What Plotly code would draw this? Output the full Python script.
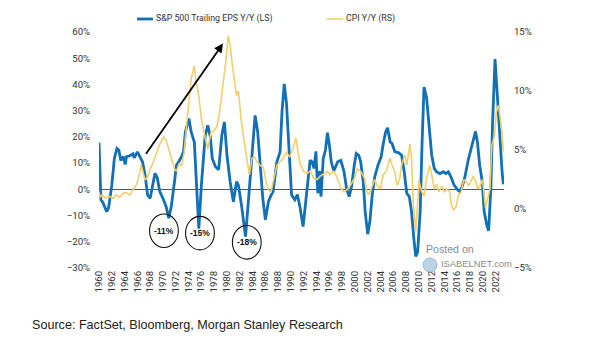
import plotly.graph_objects as go

# S&P 500 trailing EPS, year-over-year change (%), left axis
eps_year = [1960.0, 1960.3, 1960.6, 1961.2, 1961.5, 1962.0, 1962.4, 1962.8, 1963.1, 1963.4,
            1963.8, 1964.1, 1964.3, 1964.8, 1965.3, 1965.5, 1966.0, 1966.4, 1966.8, 1967.2,
            1967.6, 1968.0, 1968.4, 1968.75, 1969.1, 1969.5, 1970.0, 1970.5, 1970.9, 1971.3,
            1971.8, 1972.1, 1972.5, 1972.9, 1973.2, 1973.5, 1974.05, 1974.4, 1974.9, 1975.25,
            1975.6, 1976.0, 1976.6, 1977.0, 1977.4, 1977.7, 1978.2, 1978.7, 1979.2, 1979.6,
            1980.0, 1980.5, 1981.0, 1981.5, 1981.8, 1982.3, 1982.9, 1983.3, 1983.9, 1984.4,
            1984.8, 1985.2, 1985.6, 1986.0, 1986.5, 1986.9, 1987.2, 1987.8, 1988.3, 1988.6,
            1988.95, 1989.3, 1989.7, 1990.1, 1990.6, 1991.0, 1991.4, 1991.9, 1992.3, 1992.7,
            1993.0, 1993.3, 1993.6, 1993.9, 1994.2, 1994.5, 1994.7, 1995.05, 1995.4, 1995.7,
            1996.0, 1996.3, 1996.7, 1997.3, 1997.8, 1998.3, 1998.7, 1999.1, 1999.5, 1999.9,
            2000.2, 2000.6, 2000.9, 2001.3, 2001.6, 2002.0, 2002.35, 2002.7, 2003.1, 2003.6,
            2004.1, 2004.4, 2004.8, 2005.1, 2005.5, 2005.8, 2006.25, 2006.8, 2007.3, 2007.7,
            2008.1, 2008.5, 2008.85, 2009.2, 2009.5, 2009.8, 2010.2, 2010.5, 2010.8, 2011.2,
            2011.55, 2012.0, 2012.4, 2012.75, 2013.3, 2013.8, 2014.2, 2014.6, 2015.0, 2015.5,
            2016.0, 2016.4, 2016.75, 2017.2, 2017.7, 2018.1, 2018.5, 2018.85, 2019.15, 2019.5,
            2019.9, 2020.2, 2020.6, 2020.9, 2021.25, 2021.5, 2021.9, 2022.2, 2022.65, 2023.0,
            2023.2]
eps_yoy = [17.8, -4.0, -5.0, -8.5, -7.0, 1.6, 11.8, 15.6, 15.0, 11.0,
           12.5, 9.5, 12.5, 12.8, 13.5, 12.0, 14.3, 12.5, 10.5, 5.4,
           -2.2, -3.4, 2.0, 6.1, 4.5, -0.9, -3.5, -6.6, -11.0, -6.5,
           2.9, 9.2, 10.7, 12.4, 14.3, 21.9, 27.0, 22.0, 18.0, 2.0,
           -15.0, 1.6, 20.6, 24.4, 20.0, 11.8, 8.6, 7.5, 20.6, 25.7,
           13.0, 2.9, -4.7, 2.9, 1.5, -6.6, -18.0, -6.0, 14.3, 28.2,
           22.0, 9.2, -3.4, -11.6, -4.5, -2.2, -0.9, 10.5, 14.3, 29.5,
           40.2, 33.0, 16.8, -2.2, -4.0, -2.0, -6.6, -14.2, -5.0, 4.2,
           11.1, 10.5, 8.0, 14.5, -1.5, 7.0, -2.8, 11.8, 15.0, 21.6,
           17.0, 10.5, 7.0, 10.5, 11.0, 6.7, 0.2, -2.8, 1.5, 9.2,
           13.7, 13.0, 10.5, 2.9, -8.5, -17.1, -12.0, -2.2, 4.8, 9.2,
           12.4, 17.0, 21.9, 23.5, 18.1, 17.5, 14.3, 14.0, 13.0, 6.7,
           -1.5, -2.8, -8.5, -18.6, -25.6, -24.0, -8.5, 18.0, 39.0, 35.0,
           24.4, 13.0, 8.0, 6.7, 6.0, 6.7, 6.0, 6.7, 4.8, 1.6,
           0.0, -0.9, 1.0, 4.8, 11.1, 14.9, 19.4, 22.1, 18.0, 9.2,
           3.0, -8.5, -13.6, -15.8, 0.5, 24.4, 49.7, 37.0, 18.0, 6.7,
           1.9]

# US CPI, year-over-year change (%), right axis
cpi_year = [1960.0, 1960.2, 1960.5, 1961.0, 1961.5, 1962.2, 1962.6, 1963.2, 1963.7, 1964.2,
            1964.8, 1965.2, 1965.5, 1965.9, 1966.2, 1966.6, 1966.8, 1967.2, 1967.6, 1968.0,
            1968.5, 1969.0, 1969.5, 1970.1, 1970.5, 1970.9, 1971.3, 1971.8, 1972.1, 1972.5,
            1972.9, 1973.3, 1973.7, 1974.05, 1974.4, 1974.9, 1975.2, 1975.6, 1976.0, 1976.6,
            1977.0, 1977.5, 1977.9, 1978.4, 1978.9, 1979.3, 1979.8, 1980.2, 1980.5, 1980.8,
            1981.2, 1981.5, 1981.8, 1982.2, 1982.7, 1983.1, 1983.5, 1983.9, 1984.3, 1984.7,
            1985.2, 1985.7, 1986.0, 1986.5, 1986.9, 1987.2, 1987.8, 1988.3, 1988.8, 1989.3,
            1989.8, 1990.3, 1990.8, 1991.1, 1991.5, 1992.0, 1992.5, 1993.0, 1993.6, 1994.1,
            1994.6, 1995.2, 1995.7, 1996.1, 1996.6, 1997.0, 1997.5, 1997.9, 1998.3, 1998.9,
            1999.4, 1999.9, 2000.4, 2000.9, 2001.5, 2001.85, 2002.2, 2002.7, 2003.1, 2003.5,
            2004.0, 2004.4, 2004.9, 2005.5, 2005.8, 2006.2, 2006.6, 2007.0, 2007.3, 2007.8,
            2008.1, 2008.6, 2008.85, 2009.1, 2009.5, 2009.8, 2010.0, 2010.4, 2010.8, 2011.2,
            2011.7, 2012.0, 2012.4, 2012.75, 2013.1, 2013.6, 2014.0, 2014.4, 2014.8, 2015.1,
            2015.4, 2015.8, 2016.2, 2016.6, 2017.0, 2017.4, 2017.8, 2018.1, 2018.5, 2018.9,
            2019.2, 2019.6, 2019.95, 2020.4, 2020.8, 2021.1, 2021.4, 2021.8, 2022.1, 2022.45,
            2022.7, 2023.0, 2023.2]
cpi_yoy = [1.45, 1.0, 1.2, 0.9, 1.1, 0.9, 1.2, 1.0, 1.3, 1.4,
           1.2, 1.5, 1.75, 2.1, 2.7, 3.7, 3.3, 2.45, 2.7, 3.4,
           4.0, 4.7, 5.5, 6.1, 5.8, 5.1, 4.4, 3.4, 3.2, 3.8,
           3.7, 4.8, 7.1, 9.3, 11.0, 12.15, 10.7, 9.6, 7.65, 6.0,
           5.1, 6.5, 6.6, 6.95, 8.35, 10.2, 12.4, 14.7, 13.8, 12.4,
           10.5, 9.6, 10.0, 7.65, 5.7, 4.3, 2.9, 4.3, 4.4, 4.0,
           3.7, 3.5, 2.6, 1.6, 1.45, 2.25, 3.7, 4.0, 4.3, 4.8,
           4.4, 5.1, 6.0, 4.8, 3.7, 3.2, 3.0, 3.2, 2.6, 2.5,
           2.8, 3.0, 3.2, 2.9, 3.2, 2.9, 2.3, 1.7, 1.45, 1.7,
           2.1, 2.6, 3.4, 3.2, 2.6, 1.45, 1.2, 2.0, 2.5, 2.0,
           1.7, 2.9, 3.2, 4.3, 3.7, 3.2, 2.0, 2.6, 3.7, 4.6,
           3.7, 5.5, 4.3, 0.6, -1.9, 0.5, 2.4, 1.5, 1.1, 2.6,
           3.7, 2.9, 1.7, 2.1, 1.45, 1.9, 1.45, 1.7, 1.45, 0.3,
           -0.1, 0.2, 1.2, 1.45, 2.5, 2.3, 2.0, 2.3, 2.8, 2.3,
           1.7, 2.0, 2.5, 0.1, 1.0, 1.7, 5.4, 6.2, 8.2, 8.8,
           7.7, 6.4, 4.85]

# x-axis tick years
tick_years = list(range(1960, 2023, 2))
tick_labels = [str(y) for y in tick_years]

# earnings recession troughs that are circled and labelled
trough_labels = ["-11%", "-15%", "-18%"]
trough_years = [1970.9, 1975.6, 1982.9]

series_names = ["S&P 500 Trailing EPS Y/Y (LS)", "CPI Y/Y (RS)"]
BLUE = "#1170b6"
GOLD = "#f2cf6b"
TEXT = "#333333"
NARROW = "Liberation Sans Narrow, Arial Narrow, Roboto, sans-serif"

# plot-area geometry in pixels (used to place the decorations in paper space)
W, H = 605, 341
L, R, T, B = 99, 101, 32, 73
PW, PH = W - L - R, H - T - B


def px(x):
    return (x - L) / PW


def py(y):
    return (H - B - y) / PH


fig = go.Figure()
fig.add_trace(go.Scatter(x=eps_year, y=eps_yoy, name=series_names[0], mode="lines",
                         line=dict(color=BLUE, width=2.8), yaxis="y"))
fig.add_trace(go.Scatter(x=cpi_year, y=cpi_yoy, name=series_names[1], mode="lines",
                         line=dict(color=GOLD, width=1.6), yaxis="y2"))

shapes = []
annotations = []

# custom legend across the top
legend_items = [(137, 153, BLUE, 2.8, series_names[0]), (327, 343, GOLD, 1.6, series_names[1])]
for x0, x1, col, w, name in legend_items:
    shapes.append(dict(type="line", xref="paper", yref="paper", x0=px(x0), x1=px(x1),
                       y0=py(19), y1=py(19), line=dict(color=col, width=w)))
    annotations.append(dict(xref="paper", yref="paper", x=px(x1 + 1), y=py(19), text=name,
                            showarrow=False, xanchor="left", yanchor="middle",
                            font=dict(family=NARROW, size=8.8, color=TEXT)))

# circled trough labels below each earnings recession low
ell_rx, ell_ry = 2.25, 6.4
ell_offsets = [(-0.75, -4.8), (0.18, -1.7), (0.2, -2.2)]
for lab, yr, (dx, dy) in zip(trough_labels, trough_years, ell_offsets):
    val = eps_yoy[eps_year.index(yr)]
    cx, cy = yr + dx, val + dy
    shapes.append(dict(type="circle", xref="x", yref="y", x0=cx - ell_rx, x1=cx + ell_rx,
                       y0=cy - ell_ry, y1=cy + ell_ry, line=dict(color="#111111", width=1.1)))
    annotations.append(dict(x=cx, y=cy, xref="x", yref="y", text="<b>%s</b>" % lab,
                            showarrow=False, font=dict(family="Arial", size=8.5, color="#111111")))

# arrow highlighting the rise in inflation through the 1970s
annotations.append(dict(x=1979.38, y=55.6, ax=1967.19, ay=13.0, xref="x", yref="y",
                        axref="x", ayref="y", text="", showarrow=True, arrowhead=2,
                        arrowsize=1.0, arrowwidth=1.8, arrowcolor="#000000"))

# source line
annotations.append(dict(xref="paper", yref="paper", x=px(30), y=py(325),
                        text="Source: FactSet, Bloomberg, Morgan Stanley Research",
                        showarrow=False, xanchor="left", yanchor="middle",
                        font=dict(family="Liberation Sans, Arial", size=12.6, color="#222222")))

# site credit
shapes.append(dict(type="circle", xref="paper", yref="paper", x0=px(423), x1=px(437),
                   y0=py(272), y1=py(258), fillcolor="#bcd3e4", line=dict(color="#9bb8cf", width=1)))
annotations.append(dict(xref="paper", yref="paper", x=px(424), y=py(249), text="Posted on",
                        showarrow=False, xanchor="left", yanchor="middle",
                        font=dict(family="Liberation Sans, Arial", size=10.6, color="#8a8a8a")))
annotations.append(dict(xref="paper", yref="paper", x=px(439), y=py(263), text="ISABELNET.com",
                        showarrow=False, xanchor="left", yanchor="middle",
                        font=dict(family="Liberation Sans, Arial", size=9.4, color="#8a8a8a")))

axis_font = dict(family=NARROW, size=9.6, color=TEXT)
fig.update_layout(
    width=W, height=H, autosize=False,
    margin=dict(l=L, r=R, t=T, b=B, pad=0),
    paper_bgcolor="white", plot_bgcolor="white",
    showlegend=False,
    shapes=shapes, annotations=annotations,
    xaxis=dict(range=[1960, 2023.3], tickmode="array", tickvals=tick_years, ticktext=tick_labels,
               tickangle=-90, tickfont=axis_font, showgrid=False, zeroline=False,
               showline=False, ticks=""),
    yaxis=dict(range=[-30, 60], dtick=10, ticksuffix="%", tickfont=axis_font, showgrid=False,
               zeroline=True, zerolinecolor="#555555", zerolinewidth=1.4, showline=False,
               ticks="outside", ticklen=6, tickcolor="rgba(0,0,0,0)"),
    yaxis2=dict(range=[-5, 15], dtick=5, ticksuffix="%", tickfont=axis_font, overlaying="y",
                side="right", showgrid=False, zeroline=False, showline=False,
                ticks="outside", ticklen=7, tickcolor="rgba(0,0,0,0)"),
)

fig.write_html("out.html")
